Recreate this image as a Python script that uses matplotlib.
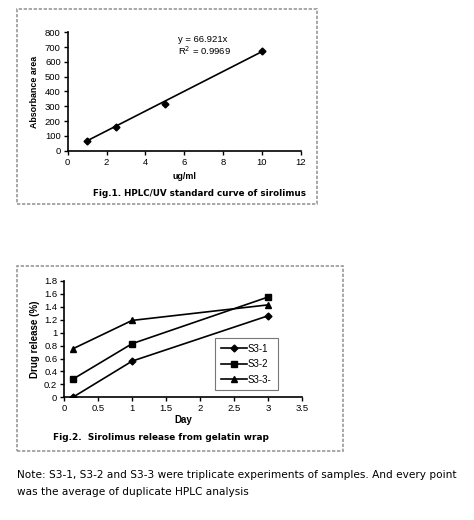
import matplotlib
matplotlib.use("Agg")
import matplotlib.pyplot as plt
from matplotlib.patches import Rectangle
import numpy as np

# ---- data ----
conc = [1, 2.5, 5, 10]
absorb = [65, 158, 315, 672]
slope = 66.921
r2_text = "0.9969"

days = [0.125, 1, 3]
s31 = [0.0, 0.56, 1.26]
s32 = [0.28, 0.83, 1.55]
s33 = [0.75, 1.19, 1.43]
series_labels = ["S3-1", "S3-2", "S3-3-"]

W, H = 474, 520
fig = plt.figure(figsize=(W / 100, H / 100), dpi=100)
fig.patch.set_facecolor("white")

def px(x0, y0, x1, y1):
    return [x0 / W, 1 - y1 / H, (x1 - x0) / W, (y1 - y0) / H]

def style(ax):
    for s in ["top", "right"]:
        ax.spines[s].set_visible(False)
    for s in ["left", "bottom"]:
        ax.spines[s].set_linewidth(1.2)
    ax.tick_params(direction="out", length=3, width=1, pad=2)
    for lbl in ax.get_xticklabels() + ax.get_yticklabels():
        lbl.set_fontfamily("Liberation Sans")
        lbl.set_fontsize(6.8)

# frames
for (x0, y0, x1, y1) in [(17, 9, 317, 204), (17, 266, 343, 451)]:
    fig.patches.append(Rectangle((x0 / W, 1 - y1 / H), (x1 - x0) / W, (y1 - y0) / H,
                                 transform=fig.transFigure, fill=False,
                                 edgecolor="#9a9a9a", linewidth=1.2, linestyle=(0, (2, 1))))

# ---- Fig 1 ----
ax1 = fig.add_axes(px(67.7, 32.3, 300.7, 150.7))
xs = np.array([conc[0], conc[-1]])
ax1.plot(xs, slope * xs, color="black", lw=1.2)
ax1.plot(conc, absorb, "D", color="black", ms=3.5)
ax1.set_xlim(0, 12)
ax1.set_ylim(0, 800)
ax1.set_xticks(np.arange(0, 13, 2))
ax1.set_yticks(np.arange(0, 801, 100))
style(ax1)
lab1 = dict(family="Liberation Sans", size=6.4, weight="bold")
ax1.set_xlabel("ug/ml", **lab1, labelpad=4)
ax1.set_ylabel("Absorbance area", **lab1, labelpad=4)
fig.text(178 / W, 1 - 40 / H, "y = 66.921x", family="Liberation Sans", size=6.8, va="center")
fig.text(178 / W, 1 - 51 / H, "R$^2$ = " + r2_text, family="Liberation Sans", size=6.8, va="center")
fig.text(93 / W, 1 - 193 / H, "Fig.1. HPLC/UV standard curve of sirolimus",
         family="DejaVu Sans", weight="bold", size=6.3, va="center")

# ---- Fig 2 ----
ax2 = fig.add_axes(px(64.3, 281, 301.7, 397.3))
ax2.plot(days, s31, "-D", color="black", ms=3.5, lw=1.2, label=series_labels[0])
ax2.plot(days, s32, "-s", color="black", ms=4, lw=1.2, label=series_labels[1])
ax2.plot(days, s33, "-^", color="black", ms=4.5, lw=1.2, label=series_labels[2])
ax2.set_xlim(0, 3.5)
ax2.set_ylim(0, 1.8)
ax2.set_xticks(np.arange(0, 3.51, 0.5))
ax2.set_xticklabels(["0", "0.5", "1", "1.5", "2", "2.5", "3", "3.5"])
ax2.set_yticks(np.arange(0, 1.81, 0.2))
ax2.set_yticklabels(["0", "0.2", "0.4", "0.6", "0.8", "1", "1.2", "1.4", "1.6", "1.8"])
style(ax2)
lab2 = dict(family="Liberation Sans", size=7, weight="bold")
ax2.set_xlabel("Day", **lab2, labelpad=1)
ax2.set_ylabel("Drug release (%)", **lab2, labelpad=3)
leg = ax2.legend(loc="upper left", bbox_to_anchor=((215 - 64.3) / 237.4, (397.3 - 338) / 116.3),
                 borderaxespad=0, frameon=True, fancybox=False, edgecolor="#555555",
                 prop=dict(family="Liberation Sans", size=7), handlelength=2.7,
                 borderpad=0.6, labelspacing=0.55, handletextpad=0.1)
leg.get_frame().set_linewidth(0.8)
fig.text(53 / W, 1 - 437 / H, "Fig.2.  Sirolimus release from gelatin wrap",
         family="DejaVu Sans", weight="bold", size=6.4, va="center")

# ---- Note ----
fig.text(17 / W, 1 - 475 / H,
         "Note: S3-1, S3-2 and S3-3 were triplicate experiments of samples. And every point",
         family="DejaVu Sans", size=7.6, va="center")
fig.text(17 / W, 1 - 492 / H, "was the average of duplicate HPLC analysis",
         family="DejaVu Sans", size=7.6, va="center")

fig.savefig("out.png", dpi=100, facecolor="white")
